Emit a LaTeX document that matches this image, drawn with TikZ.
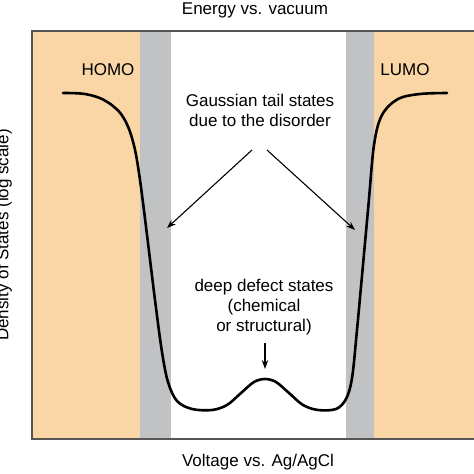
\documentclass[tikz,border=0pt]{standalone}
\usepackage{fontspec}
\setmainfont{Liberation Sans}
\usetikzlibrary{arrows.meta, positioning}

\definecolor{bandorange}{RGB}{250,214,166}
\definecolor{tailgray}{RGB}{193,194,195}
\definecolor{frameline}{RGB}{85,85,85}

\begin{document}
\begin{tikzpicture}[x=1pt, y=-1pt]
	\tikzset {>={Stealth[length=9pt, width=6.5pt]}, every node/.style={font=\fontsize{17}{20}\selectfont, align=center},
		pointer/.style={->, line width=1.1pt}, dos/.style={line width=2.6pt, line join=round, line cap=round} }

	\useasboundingbox (0,0) rectangle (474,474);

	% bands and tail regions
	\fill[bandorange] (32,31) rectangle (140,439);
	\fill[tailgray] (140,31) rectangle (171,439);
	\fill[tailgray] (346,31) rectangle (374,439);
	\fill[bandorange] (374,31) rectangle (480,439);
	\draw[frameline, line width=1.3pt] (480,31) -- (32,31) -- (32,439) -- (480,439);

	% density of states
	\draw[dos] plot[smooth, tension=0.55] coordinates {(63,93) (85,94) (104,100) (121,114) (132,138) (140,180) (155,300) (162,352) (168,382) (177,401) (192,409) (212,410) (227,405) (241,393) (254,382) (265,379) (276,382) (289,393) (303,405) (318,410) (336,409) (346,399) (352,378) (357,330) (368,210) (374,145) (382,115) (398,99) (420,94) (447,93)};

	\node (homo) at (108,70) {HOMO};
	\node (lumo) at (405,70) {LUMO};
	\node (gauss) at (260,110) {Gaussian tail states\\due to the disorder};
	\node (deep) at (264,307) {deep defect states\\(chemical\\or structural)};

	\coordinate (gl) at (252,150);
	\coordinate (gr) at (267,150);
	\coordinate (tl) at (167,228);
	\coordinate (tr) at (355,230);
	\coordinate (dt) at (265,343);
	\coordinate (dh) at (265,369);
	\draw[pointer] (gl) -- (tl);
	\draw[pointer] (gr) -- (tr);
	\draw[pointer] (dt) -- (dh);

	% axis texts
	\node (top) at (255,10) {Energy vs. vacuum};
	\node (bottom) at (258,462) {Voltage vs. Ag/AgCl};
	\node[rotate=90] (ylab) at (4,235) {Density of States (log scale)};
\end{tikzpicture}
\end{document}
